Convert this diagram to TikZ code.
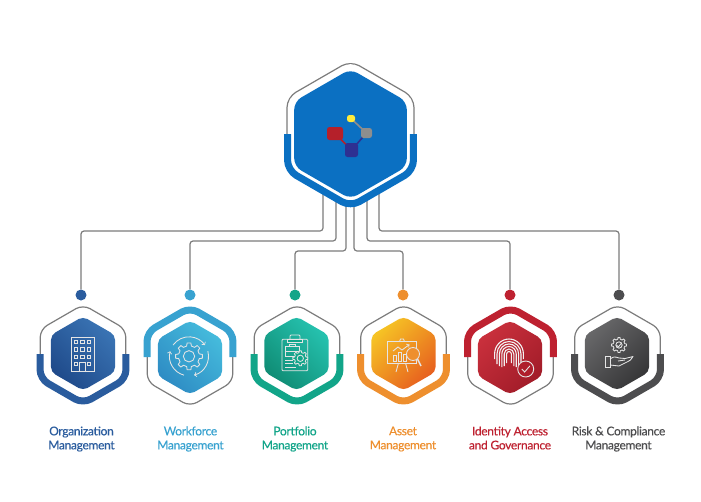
\documentclass[tikz,border=0pt]{standalone}
\usepackage{fontspec}
\setmainfont[LetterSpace=-2.6,FakeBold=0.25]{Lato}
\definecolor{hubblue}{HTML}{0B70C2}
\definecolor{orgblue}{HTML}{2A5C9E}
\definecolor{orgdark}{HTML}{1F4A8A}
\definecolor{orglight}{HTML}{3A74B4}
\definecolor{workblue}{HTML}{38A2D0}
\definecolor{workdark}{HTML}{2E8CC4}
\definecolor{worklight}{HTML}{45BBDC}
\definecolor{portgreen}{HTML}{12A589}
\definecolor{assetorange}{HTML}{EE8F2E}
\definecolor{identred}{HTML}{BE2130}
\definecolor{riskgrey}{HTML}{4D4D4F}
\definecolor{linkgrey}{HTML}{7C7C7C}
\definecolor{logored}{HTML}{B5202A}
\definecolor{logonavy}{HTML}{2E3092}
\definecolor{logogrey}{HTML}{8E8E8E}
\definecolor{logoyellow}{HTML}{FFEB3B}
\tikzset{
  link/.style={draw=linkgrey,line width=1.2pt,rounded corners=3pt},
  ring/.style={draw=linkgrey,line width=1.2pt,rounded corners=8pt},
  band/.style={line width=7pt,rounded corners=9pt},
  core/.style={rounded corners=5pt},
  hubdot/.style={circle,inner sep=0pt,minimum size=11pt},
  caption/.style={align=center,font=\fontsize{12}{14}\selectfont},
  logobit/.style={rectangle,rounded corners=2.5pt,inner sep=0pt},
  iconline/.style={draw=white!90!black,line width=0.85pt},
}
\newcommand{\hexpath}[3]{(#1,#2-#3) -- (#1+0.866*#3,#2-#3/2) -- (#1+0.866*#3,#2+#3/2) -- (#1,#2+#3) -- (#1-0.866*#3,#2+#3/2) -- (#1-0.866*#3,#2-#3/2) -- cycle}
\newcommand{\halfhex}[4]{(#1-0.866*#3,#2) -- (#1-0.866*#3,#2+#4*#3/2) -- (#1,#2+#4*#3) -- (#1+0.866*#3,#2+#4*#3/2) -- (#1+0.866*#3,#2)}
\newcommand{\gearicon}[4]{
  \begin{scope}[shift={(#1,#2)}]
  \filldraw[iconline,fill=#4,line join=round] (-13:0.78*#3) \foreach \a in {0,45,...,315} {-- (\a-13:0.78*#3) -- (\a-8:#3) -- (\a+8:#3) -- (\a+13:0.78*#3)} -- cycle;
  \draw[iconline] (0,0) circle (0.42*#3);
  \end{scope}
}
\begin{document}
\begin{tikzpicture}[x=1pt,y=-1pt]
\useasboundingbox[fill=white] (0,0) rectangle (701,501);

% dots and where the lines leave the hub
\draw (81,295) node[hubdot,fill=orgblue](orgdot){};
\draw (190,295) node[hubdot,fill=workblue](workdot){};
\draw (295,295) node[hubdot,fill=portgreen](portdot){};
\draw (403,295) node[hubdot,fill=assetorange](assetdot){};
\draw (510,295) node[hubdot,fill=identred](identdot){};
\draw (619,295) node[hubdot,fill=riskgrey](riskdot){};
\coordinate (taporg) at (323,190);
\coordinate (tapwork) at (336,195);
\coordinate (tapport) at (346,195);
\coordinate (tapasset) at (354,195);
\coordinate (tapident) at (367,195);
\coordinate (taprisk) at (379,190);

\draw[link] (taporg) |- (200,231) -| (orgdot);
\draw[link] (tapwork) |- (260,241) -| (workdot);
\draw[link] (tapport) |- (320,251) -| (portdot);
\draw[link] (tapasset) |- (380,251) -| (assetdot);
\draw[link] (tapident) |- (440,241) -| (identdot);
\draw[link] (taprisk) |- (500,231) -| (riskdot);

% hub
\draw[ring,rounded corners=10pt] \halfhex{350.5}{134}{73.3}{-1};
\fill[white] \hexpath{350.5}{134}{70};
\draw[band,draw=hubblue,rounded corners=10pt] \halfhex{350.5}{134}{72.7}{1};
\fill[core,rounded corners=8pt,hubblue] \hexpath{350.5}{134}{65};
\draw[logogrey,line width=1.6pt] (351,118.5) -- (366.5,133);
\draw[logonavy,line width=1.6pt] (366.5,133) -- (351.5,150);
\draw[logored,line width=1.6pt] (335,133.5) -- (351.5,150);
\node[logobit,fill=logoyellow,minimum width=8pt,minimum height=7pt](yellowbit) at (351,118.5){};
\node[logobit,fill=logogrey,minimum width=11pt,minimum height=10pt](greybit) at (366.5,133){};
\node[logobit,fill=logonavy,minimum width=13pt,minimum height=14pt](navybit) at (351.5,150){};
\node[logobit,fill=logored,minimum width=16pt,minimum height=13pt](redbit) at (335,133.5){};

% organization
\draw[ring] \halfhex{83}{354}{49.4}{-1};
\draw[band,draw=orgblue] \halfhex{83}{354}{49.6}{1};
\shade[core,bottom color=orgdark,top color=orglight,shading angle=-45] \hexpath{83}{353.5}{37};
\draw[iconline] (71,337) rectangle (94.3,371);
\foreach \wx in {75.7,82.3,89} \foreach \wy in {342,349.3,356.7} \draw[iconline] (\wx-1.7,\wy-1.7) rectangle (\wx+1.7,\wy+1.7);
\draw[iconline] (75.7-1.7,362.3) rectangle (75.7+1.7,365.7);
\draw[iconline] (89-1.7,362.3) rectangle (89+1.7,365.7);
\draw[iconline] (79.5,371) -- (79.5,362) -- (85.3,362) -- (85.3,371);
\node[caption,text=orgblue](orgtext) at (81.5,439){Organization\\Management};

% workforce
\draw[ring] \halfhex{190}{357}{49.4}{1};
\draw[band,draw=workblue] \halfhex{190}{357}{49.6}{-1};
\shade[core,bottom color=workdark,top color=worklight,shading angle=-45] \hexpath{190}{357.5}{37};
\gearicon{189}{356.3}{13.5}{workblue}
\draw[iconline,->] (189,356.3) ++(-145:19.5) arc[start angle=-145,end angle=-35,radius=19.5];
\draw[iconline,->] (189,356.3) ++(-255:19.5) arc[start angle=-255,end angle=-165,radius=19.5];
\draw[iconline,->] (189,356.3) ++(-15:19.5) arc[start angle=-15,end angle=75,radius=19.5];
\node[caption,text=workblue](worktext) at (190.5,439){Workforce\\Management};

% portfolio
\draw[ring] \halfhex{297}{354}{49.4}{-1};
\draw[band,draw=portgreen] \halfhex{297}{354}{49.6}{1};
\shade[core,bottom color=portgreen!85!black,top color=portgreen!75!cyan!90!white,shading angle=-45] \hexpath{296.5}{353.5}{37};
\draw[iconline,rounded corners=1pt] (282,339.3) rectangle (307.7,370.7);
\draw[iconline,rounded corners=1pt] (290,339.3) -- (290,335) -- (300,335) -- (300,339.3);
\draw[iconline,fill=portgreen] (287.5,339.3) rectangle (302.5,342.5);
\draw[iconline] (285,346.7) rectangle (299.7,356.7);
\draw[iconline] (289.5,346.7) -- (289.5,344) -- (295.2,344) -- (295.2,346.7);
\draw[iconline] (285,351.5) -- (299.7,351.5);
\draw[iconline] (285,360) -- (293,360);
\draw[iconline] (285,363.5) -- (293,363.5);
\draw[iconline] (285,367) -- (296,367);
\gearicon{300.3}{358.3}{7.5}{portgreen}
\node[caption,text=portgreen](porttext) at (295,439){Portfolio\\Management};

% asset
\draw[ring] \halfhex{403.5}{354}{49.4}{-1};
\draw[band,draw=assetorange] \halfhex{403.5}{354}{49.6}{1};
\shade[core,bottom color=assetorange!70!red!95!black,top color=assetorange!55!yellow!95!white,shading angle=45] \hexpath{403.5}{353.5}{37};
\draw[iconline] (387,341.7) rectangle (416.7,363);
\draw[iconline] (399.5,341.7) -- (400.5,339) -- (403.5,339) -- (404.5,341.7);
\draw[iconline] (398.5,363) -- (396,372);
\draw[iconline] (405.5,363) -- (408,372);
\draw[iconline] (393.5,355) rectangle (396.5,361.7);
\draw[iconline] (398.5,352) rectangle (401.5,361.7);
\draw[iconline] (403.5,354) rectangle (406.5,361.7);
\draw[iconline,->] (393,351) -- (398,347) -- (402,350) -- (409.5,344.5);
\draw[iconline,fill=assetorange] (413,354) circle (6.5);
\draw[iconline,line width=1.5pt] (417.5,359) -- (421,366);
\node[caption,text=assetorange](assettext) at (403,439){Asset\\Management};

% identity
\draw[ring] \halfhex{510.5}{357}{49.4}{1};
\draw[band,draw=identred] \halfhex{510.5}{357}{49.6}{-1};
\shade[core,bottom color=identred!85!black,top color=identred!90!red!92!white,shading angle=45] \hexpath{510}{357.5}{37};
\foreach \k/\leg in {1/9,2/12,3/13,4/12,5/10,6/5} \draw[draw=white!95!black,line width=1.1pt] (509-2.4*\k,354+\leg) -- (509-2.4*\k,354) arc[start angle=-180,end angle=0,x radius=2.4*\k,y radius=2.5*\k] -- ++(0,\leg);
\draw[iconline,fill=identred!92!black,line width=0.9pt] (525.7,369) circle (8);
\draw[iconline,line width=0.9pt] (521.8,369) -- (524.6,372) -- (529.8,366);
\node[caption,text=identred](identtext) at (510,438){Identity Access\\and Governance};

% risk
\draw[ring] \halfhex{617.5}{354}{49.4}{-1};
\draw[band,draw=riskgrey] \halfhex{617.5}{354}{49.6}{1};
\shade[core,bottom color=riskgrey!70!black,top color=riskgrey!85!white,shading angle=45] \hexpath{617}{353.5}{37};
\gearicon{619}{345}{7.5}{riskgrey}
\draw[iconline] (616.5,345) -- (618.3,347) -- (621.5,343);
\draw[iconline] (605,356.7) rectangle (610,367);
\draw[iconline,line join=round] (610,359) .. controls (614,356.5) .. (619,358) -- (625,358.5) -- (633,356.5) .. controls (631,360) .. (625,363) -- (619,366) -- (610,365);
\draw[iconline] (618,361) -- (625,360);
\node[caption,text=riskgrey](risktext) at (618.5,439){Risk \& Compliance\\Management};
\end{tikzpicture}
\end{document}
